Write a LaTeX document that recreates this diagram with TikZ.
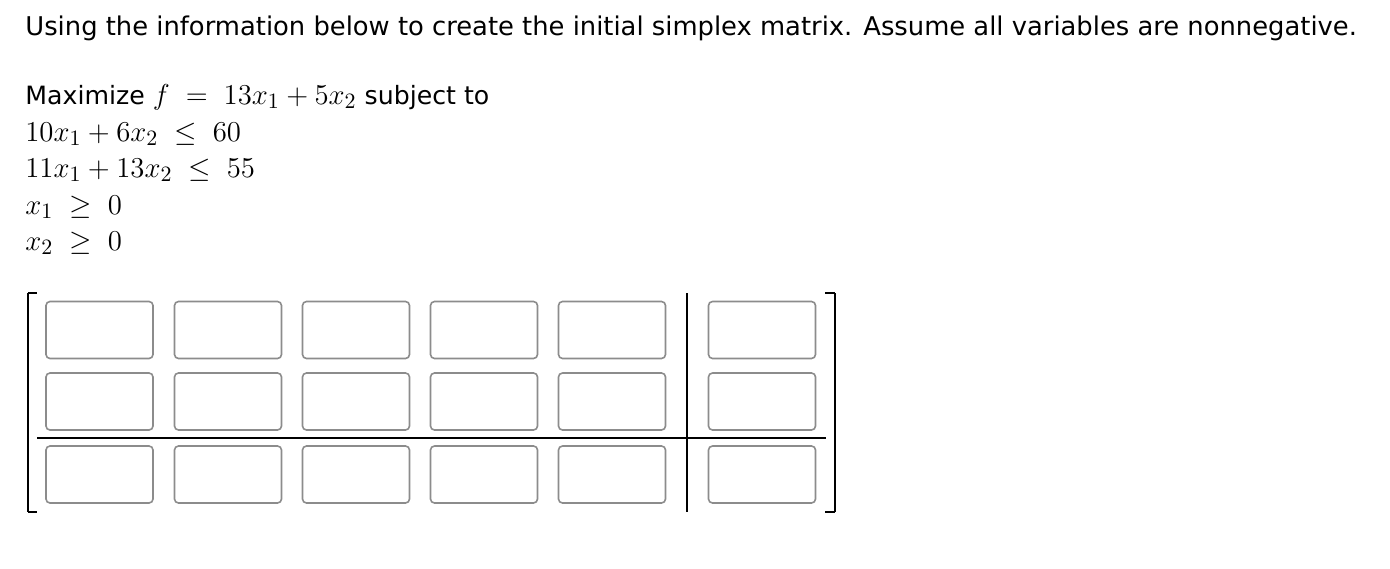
\documentclass[tikz,border=0pt]{standalone}
\usepackage{fontspec}
\setmainfont{DejaVu Sans}
\newcommand{\bm}[1]{{\fontsize{15.3}{17}\selectfont$#1$}}
\begin{document}
\begin{tikzpicture}[x=0.5pt,y=-0.5pt,
  cell/.style={draw=black!45,line width=0.8pt,rounded corners=2pt,minimum width=53.5pt,minimum height=28.5pt,inner sep=0pt},
  txt/.style={anchor=west,inner sep=0pt,font=\fontsize{12.9}{14}\selectfont},
  mth/.style={anchor=west,inner sep=0pt,font=\fontsize{12.6}{15}\selectfont}]
\useasboundingbox[fill=white] (0,0) rectangle (1390,568);
\node[txt] (title) at (25,28) {Using the information below to create the initial simplex matrix. Assume all variables are nonnegative.};
\node[mth] (l1) at (25,97) {Maximize \bm{f\;=\;13x_1+5x_2} subject to};
\node[mth] (l2) at (25,134) {\bm{10x_1+6x_2\;\le\;60}};
\node[mth] (l3) at (25,170) {\bm{11x_1+13x_2\;\le\;55}};
\node[mth] (l4) at (25,207) {\bm{x_1\;\ge\;0}};
\node[mth] (l5) at (25,243) {\bm{x_2\;\ge\;0}};
\foreach \r/\y in {1/330,2/401.5,3/474.5}{
  \foreach \c/\x in {1/99.5,2/228,3/356,4/484,5/612,6/762}{
    \node[cell] (b\r\c) at (\x,\y) {};
  }
}
\draw[line width=0.8pt] (28,293) -- (28,512);
\draw[line width=0.8pt] (28,293) -- (37,293);
\draw[line width=0.8pt] (28,512) -- (37,512);
\draw[line width=0.8pt] (835,293) -- (835,512);
\draw[line width=0.8pt] (835,293) -- (825,293);
\draw[line width=0.8pt] (835,512) -- (825,512);
\draw[line width=0.8pt] (687,293) -- (687,512);
\draw[line width=0.8pt] (37,438) -- (826,438);
\end{tikzpicture}
\end{document}
